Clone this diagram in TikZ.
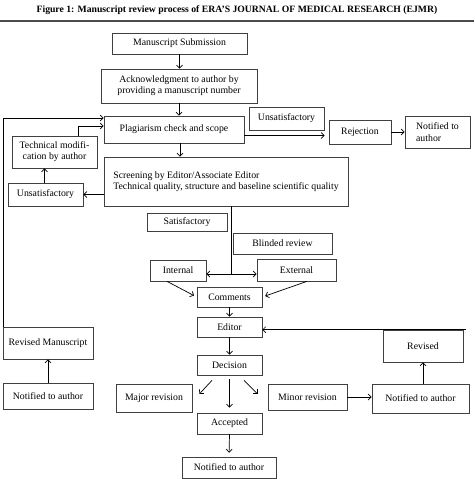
\documentclass[tikz,border=0pt]{standalone}
\usepackage{fontspec}
\setmainfont{Liberation Serif}
\usetikzlibrary{arrows.meta,calc}
\begin{document}
\begin{tikzpicture}[x=1pt, y=-1pt, line width=.7pt, >={Straight Barb[length=3pt,width=6pt]},
  box/.style={rectangle, draw=black!75, inner sep=2pt, align=center, font=\fontsize{9.8}{11.2}\selectfont}]
\useasboundingbox (0,0) rectangle (474,479);
\node[font=\bfseries\fontsize{9.7}{11}\selectfont] (title) at (237,10) {Figure 1: Manuscript review process of ERA'S JOURNAL OF MEDICAL RESEARCH (EJMR)};
\draw[black!70, line width=1.2pt] (0,21) -- (474,21);
\begin{scope}
\node[box, minimum width=135, minimum height=21] (sub) at (179.5,43.5) {Manuscript Submission};
\node[box, minimum width=156, minimum height=34] (ack) at (179,86) {Acknowledgment to author by\\providing a manuscript number};
\node[box, minimum width=140, minimum height=27] (plag) at (174,129.5) {Plagiarism check and scope};
\node[box, minimum width=75, minimum height=23] (unsat1) at (286.5,118.5) {Unsatisfactory};
\node[box, minimum width=62, minimum height=24] (rej) at (360,132) {Rejection};
\node[box, minimum width=65, minimum height=32, align=left] (notrej) at (437.5,132) {Notified to\\author};
\node[box, minimum width=85, minimum height=32] (tech) at (54.5,152) {Technical modifi-\\cation by author};
\node[box, minimum width=244, minimum height=49, align=left] (scr) at (226,181.5) {Screening by Editor/Associate Editor\\Technical quality, structure and baseline scientific quality};
\node[box, minimum width=75, minimum height=23] (unsat2) at (45.5,194.5) {Unsatisfactory};
\node[box, minimum width=80, minimum height=18] (sat) at (187,222) {Satisfactory};
\node[box, minimum width=99, minimum height=21] (blind) at (282.5,243.5) {Blinded review};
\node[box, minimum width=56, minimum height=21] (int) at (178,270.5) {Internal};
\node[box, minimum width=79, minimum height=22] (ext) at (296.5,270) {External};
\node[box, minimum width=65, minimum height=20] (com) at (229.5,297) {Comments};
\node[box, minimum width=65, minimum height=20] (edi) at (229.5,327) {Editor};
\node[box, minimum width=65, minimum height=20] (dec) at (229.5,365) {Decision};
\node[box, minimum width=90, minimum height=32] (revman) at (48,343) {Revised Manuscript};
\node[box, minimum width=90, minimum height=26] (notmaj) at (48,396) {Notified to author};
\node[box, minimum width=76, minimum height=28] (maj) at (154,398) {Major revision};
\node[box, minimum width=79, minimum height=26] (min) at (307.5,397) {Minor revision};
\node[box, minimum width=97, minimum height=29] (notmin) at (420.5,398.5) {Notified to author};
\node[box, minimum width=80, minimum height=32] (rev) at (423,346) {Revised};
\node[box, minimum width=65, minimum height=21] (acc) at (229.5,423.5) {Accepted};
\node[box, minimum width=94, minimum height=21] (notacc) at (229,467.5) {Notified to author};
%\node[box] () at (,) {};
\end{scope}
\begin{scope}[->]
\draw (sub.south) -- (sub.south |- ack.north);
\draw (ack.south) -- (ack.south |- plag.north);
\draw ([xshift=6pt]plag.south) -- ([xshift=6pt]plag.south |- scr.north);
\draw ([yshift=-6pt]plag.east) -- ([yshift=-6pt,xshift=-4pt]plag.east -| rej.west);
\draw (rej.east) -- (rej.east -| notrej.west);
\draw (scr.west |- unsat2.east) -- (unsat2.east);
\draw ([xshift=-1pt]unsat2.north) -- ([xshift=-1pt]unsat2.north |- tech.south);
\draw ([xshift=23.5pt]tech.north) |- ([yshift=3.5pt]plag.west);
\draw ([xshift=1pt]revman.north west) |- ([yshift=11.5pt]plag.west);
\draw (notmaj.north) -- (revman.south);
% blinded review split
\coordinate (split) at (231,274);
\draw[-] (scr.south -| split) -- (split);
\draw (split) -- (split -| int.east);
\draw (split) -- (split -| ext.west);
\draw[shorten >=3pt] ([xshift=-11pt]int.south) -- (com.west);
\draw[shorten >=3pt] ([xshift=10.5pt]ext.south) -- (com.east);
\draw (com.south) -- (edi.north);
\draw (edi.south) -- (dec.north);
% decision
\draw ($(dec.south)+(-17.5,5)$) -- ($(maj.east)+(7,-4)$);
\draw ($(dec.south)+(14.5,5)$) -- ($(min.west)+(-10,-3)$);
\draw[shorten <=4pt, shorten >=5pt] (dec.south) -- (acc.north);
\draw[shorten >=4pt] (acc.south) -- (notacc.north);
\draw (min.east) -- (min.east -| notmin.west);
\draw (rev.south |- notmin.north) -- (rev.south);
\draw ([xshift=3pt]rev.north east) -- (rev.north east -| edi.east);
%\draw () -- ();
\end{scope}
\end{tikzpicture}
\end{document}
